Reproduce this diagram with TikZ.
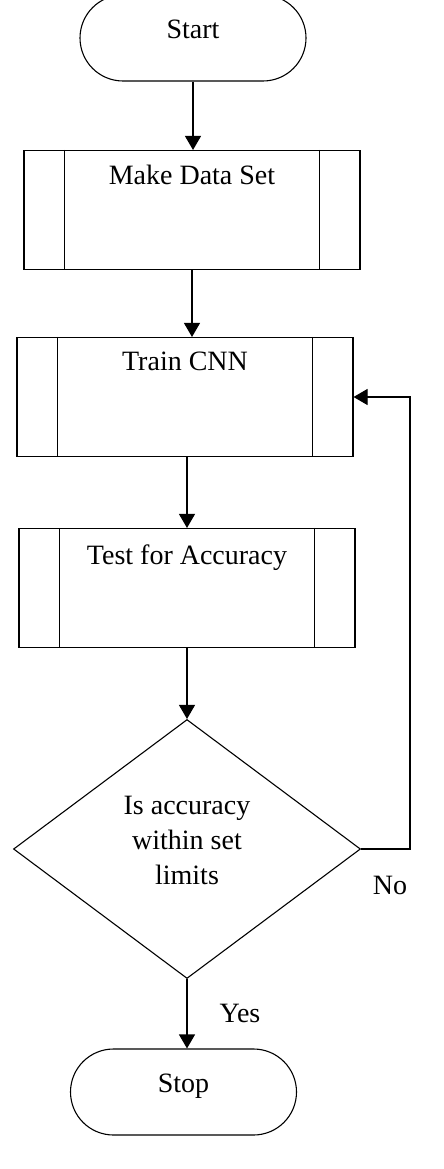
\documentclass[tikz,border=0pt]{standalone}
\usepackage{fontspec}
\setmainfont{Liberation Serif}
\usetikzlibrary{positioning,shapes.geometric,shapes.misc,arrows.meta}

\begin{document}
\begin{tikzpicture}[x=1pt, y=-1pt, >={Triangle[width=16pt,length=14pt]}, line width=1.1pt,
  font=\fontsize{28}{35}\selectfont,
  terminal/.style={rounded rectangle, draw, minimum width=226pt, minimum height=86pt, inner sep=0pt},
  process/.style={rectangle, draw, minimum width=336pt, minimum height=119pt, inner sep=0pt},
  decision/.style={diamond, draw, minimum width=347pt, minimum height=259pt, aspect=1.34, inner sep=0pt},
  caption/.style={anchor=center, inner sep=0pt, text height=18pt, text depth=0pt}]

\useasboundingbox (0,0) rectangle (444,1169);

% Start node
\node[terminal, label={[caption, yshift=-35pt]north:Start}] (start) at (193,38) {};

% Process boxes
\node[process, label={[caption, yshift=-26pt]north:Make Data Set}] (make) at (192,210) {};
\node[process, label={[caption, yshift=-25pt]north:Train CNN}] (train) at (185,397) {};
\node[process, label={[caption, yshift=-28pt]north:Test for Accuracy}] (test) at (187,588) {};

\foreach \n in {make,train,test}{
  \draw ([xshift=41pt]\n.north west) -- ([xshift=41pt]\n.south west);
  \draw ([xshift=-41pt]\n.north east) -- ([xshift=-41pt]\n.south east);
}

% Decision
\node[decision, label={[align=center, anchor=center, yshift=9pt]center:Is accuracy\\within set\\limits}] (dec) at (187,849) {};

% Stop node
\node[terminal, label={[caption, yshift=-35pt]north:Stop}] (stop) at (183.5,1092) {};

% Connections
\draw[->] (start.south) -- (start.south |- make.north);
\draw[->] (make.south) -- (make.south |- train.north);
\draw[->] (test.north |- train.south) -- (test.north);
\draw[->] (test.south) -- (dec.north);
\draw[->] (dec.south) -- (dec.south |- stop.north);
\coordinate (loop) at (410,849);
\draw[->] (dec.east) -- (loop) |- (train.east);

% Labels
\node (no) at (390,885) {No};
\node (yes) at (240,1013) {Yes};

\end{tikzpicture}
\end{document}
